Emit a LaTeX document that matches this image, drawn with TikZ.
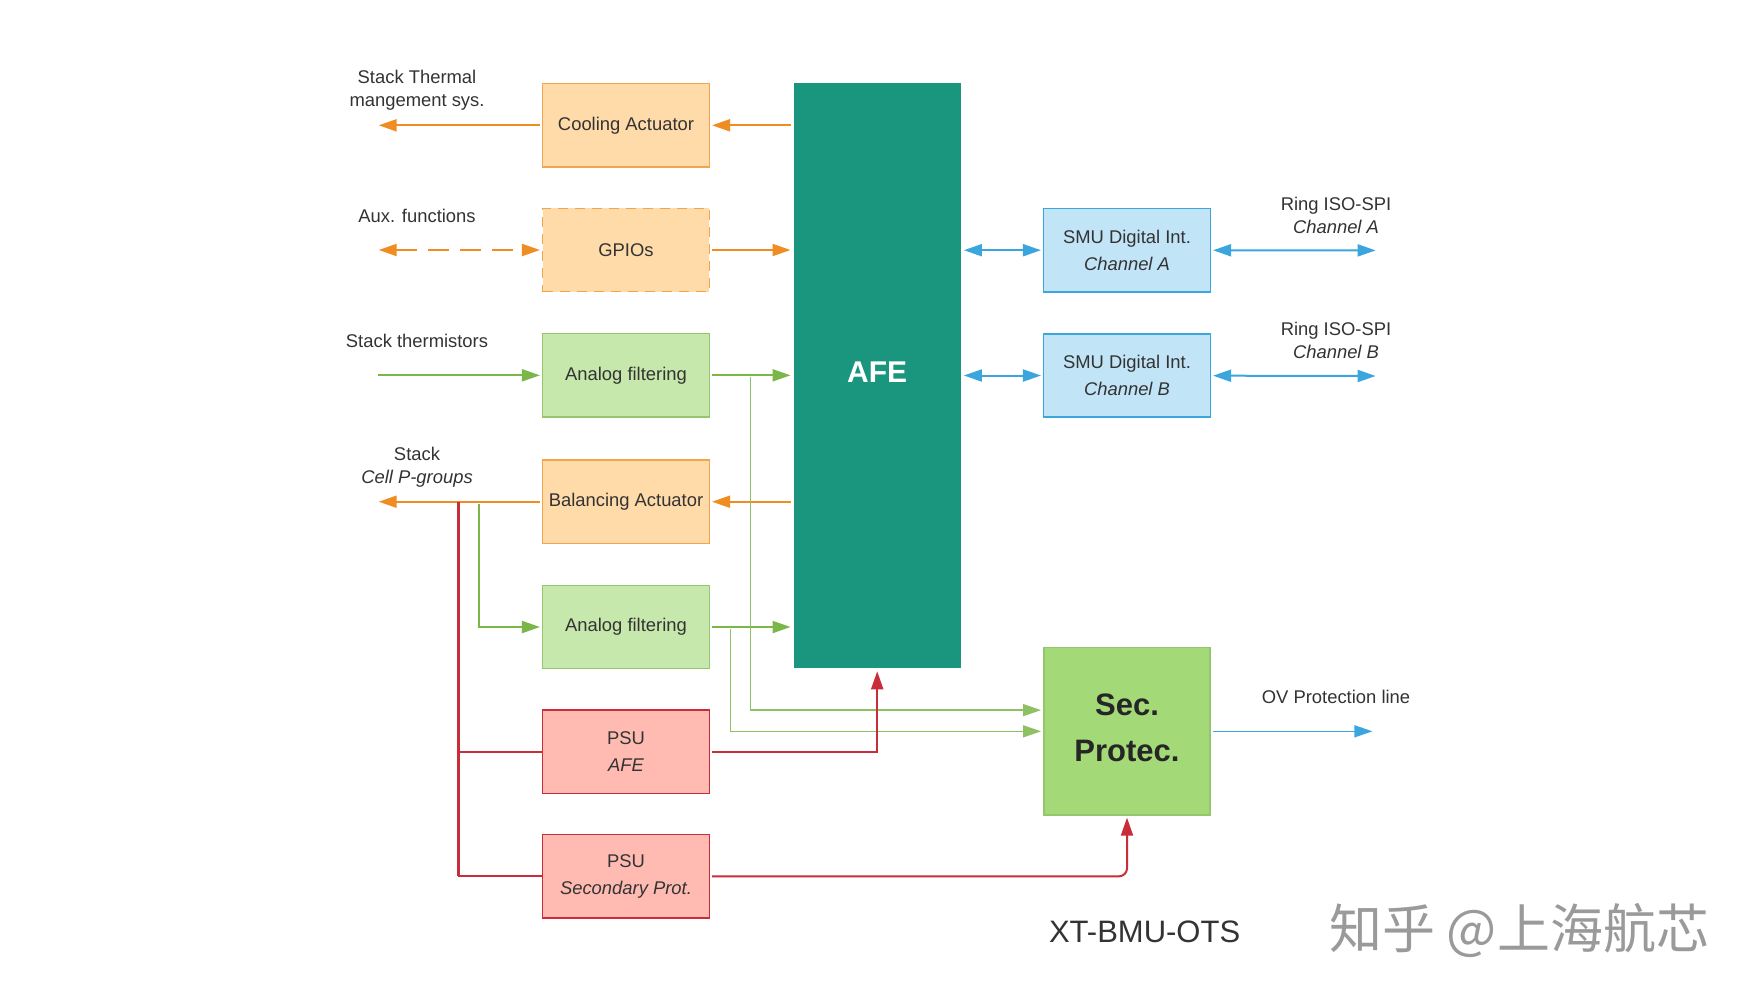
\documentclass[tikz,border=0pt]{standalone}
\usepackage{fontspec}
\setmainfont{Liberation Sans}
\newfontfamily\cjkfont{Noto Sans CJK SC}
\usetikzlibrary{arrows.meta}

\definecolor{txt}{HTML}{333333}
\definecolor{orgln}{HTML}{EF8D22}
\definecolor{orgfl}{HTML}{FFDBA9}
\definecolor{grnln}{HTML}{7AB648}
\definecolor{grnfl}{HTML}{C7E8AC}
\definecolor{secfl}{HTML}{A3D977}
\definecolor{redln}{HTML}{C92D39}
\definecolor{redfl}{HTML}{FFBBB1}
\definecolor{bluln}{HTML}{3AA6DD}
\definecolor{blufl}{HTML}{C1E4F7}
\definecolor{afefl}{HTML}{19967D}
\definecolor{wmgray}{HTML}{9A9A9A}

\begin{document}
\begin{tikzpicture}[x=.5pt,y=-.5pt,line width=1pt,>={Triangle[length=9pt,width=6pt]},
  font=\fontsize{9.2}{13.3}\selectfont,text=txt,
  blk/.style={draw,line width=.75pt,minimum width=83.3pt,minimum height=41.7pt,inner sep=0pt,align=center},
  orgbox/.style={blk,draw=orgln!80,fill=orgfl},
  grnbox/.style={blk,draw=grnln!80,fill=grnfl},
  redbox/.style={blk,draw=redln,fill=redfl},
  blubox/.style={blk,draw=bluln,fill=blufl},
  lbl/.style={align=center,font=\fontsize{9.2}{11.3}\selectfont},
  conn/.style={shorten >=1pt,shorten <=1pt},
  orgarr/.style={conn,draw=orgln},
  grnarr/.style={conn,draw=grnln},
  grnthin/.style={conn,draw=grnln!85,line width=.7pt},
  redarr/.style={conn,draw=redln},
  bluarr/.style={conn,draw=bluln}]
  \fill[white] (0,0) rectangle (1754,1003);
  \useasboundingbox (0,0) rectangle (1754,1003);

  % left column
  \node[orgbox] (cool) at (626,125.3) {Cooling Actuator};
  \node[orgbox,dash pattern=on 5pt off 3.5pt] (gpio) at (626,250) {GPIOs};
  \node[grnbox] (filt1) at (626,375.3) {Analog filtering};
  \node[orgbox] (bal) at (626,501.7) {Balancing Actuator};
  \node[grnbox] (filt2) at (626,627) {Analog filtering};
  \node[redbox] (psuafe) at (626,751.7) {PSU\\\textit{AFE}};
  \node[redbox] (psusec) at (626,876.3) {PSU\\\textit{Secondary Prot.}};

  % AFE and right column
  \node[fill=afefl,minimum width=83.7pt,minimum height=292.5pt,inner sep=0pt] (afe) at (877.2,375.8) {};
  \node[text=white,font=\bfseries\fontsize{15}{18}\selectfont] (afetxt) at (877.2,372.5) {AFE};
  \node[blubox] (smua) at (1127,250.2) {SMU Digital Int.\\\textit{Channel A}};
  \node[blubox] (smub) at (1127,375.5) {SMU Digital Int.\\\textit{Channel B}};
  \node[blk,draw=grnln!80,fill=secfl,minimum width=83.2pt,minimum height=83.6pt] (sec) at (1127,731.3) {};
  \node[align=center,text=black!85,font=\bfseries\fontsize{15.5}{23.3}\selectfont] (sectxt) at (1127,728) {Sec.\\Protec.};

  % free ends
  \coordinate (coolout) at (376.7,125.3);
  \coordinate (auxout) at (376.7,250);
  \coordinate (thermin) at (376,375.3);
  \coordinate (cellout) at (376.7,501.7);
  \coordinate (ringa) at (1377.6,250.4);
  \coordinate (ringb) at (1377.6,376);
  \coordinate (ovout) at (1374.4,731.3);
  \coordinate (j1) at (750.7,375.3);
  \coordinate (j2) at (730.7,627);
  \coordinate (sin1) at ([yshift=10.6pt]sec.west);
  \coordinate (rtop) at (458.3,501.7);
  \coordinate (rbot) at (458.3,876.3);
  \coordinate (gtop) at (479,501.7);

  % labels
  \node[lbl] (thermlbl) at (417,90.5) {Stack Thermal\\mangement sys.};
  \node[lbl] (auxlbl) at (417,215.5) {Aux. functions};
  \node[lbl] (thermistlbl) at (417,340.5) {Stack thermistors};
  \node[lbl] (celllbl) at (417,467) {Stack\\\textit{Cell P-groups}};
  \node[lbl] (ringalbl) at (1336,215.5) {Ring ISO-SPI\\\textit{Channel A}};
  \node[lbl] (ringblbl) at (1336,340.5) {Ring ISO-SPI\\\textit{Channel B}};
  \node[lbl] (ovlbl) at (1336,697) {OV Protection line};
  \node[font=\fontsize{15.5}{18}\selectfont] (title) at (1144.6,931.5) {XT-BMU-OTS};
  \node[text=wmgray,font=\cjkfont\fontsize{26.5}{26.5}\selectfont] (wm) at (1519,931) {知乎 @上海航芯};

  % orange
  \draw[orgarr,->] (afe.west |- cool) -- (cool);
  \draw[orgarr,->] (cool) -- (coolout);
  \draw[orgarr,->] (gpio) -- (afe.west |- gpio);
  \draw[orgarr,<->,dash pattern=on 10.5pt off 5.5pt] (auxout) -- (gpio);
  \draw[orgarr,->] (afe.west |- bal) -- (bal);
  \draw[orgarr,->] (bal) -- (cellout);

  % green
  \draw[grnarr,->] (thermin) -- (filt1);
  \draw[grnarr,->] (filt1) -- (afe.west |- filt1);
  \draw[grnarr,->] (gtop) |- (filt2);
  \draw[grnarr,->] (filt2) -- (afe.west |- filt2);
  \draw[grnthin,->] (j1) |- (sin1);
  \draw[grnthin,->] (j2) |- (sec.west);

  % red
  \draw[redln,line width=1.5pt] (rtop) -- (rbot);
  \draw[redln] (rtop |- psuafe) -- (psuafe.west);
  \draw[redln] (rbot) -- (psusec.west);
  \draw[redarr,->] (psuafe) -| (afe);
  \draw[redarr,->,rounded corners=4pt] (psusec) -| (sec);

  % blue
  \draw[bluarr,<->] (afe.east |- smua) -- (smua);
  \draw[bluarr,<->] (smua) -- (ringa);
  \draw[bluarr,<->] (afe.east |- smub) -- (smub);
  \draw[bluarr,<->] (smub) -- (ringb);
  \draw[bluarr,->,line width=.8pt] (sec) -- (ovout);
\end{tikzpicture}
\end{document}
